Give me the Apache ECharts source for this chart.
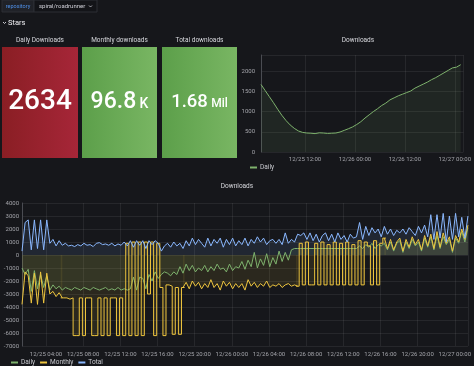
<!DOCTYPE html>
<html><head><meta charset="utf-8">
<script src="https://cdn.jsdelivr.net/npm/echarts@6/dist/echarts.min.js"></script>
<style>html,body{margin:0;padding:0;background:#16171b;}#c{width:474px;height:366px;}</style>
</head><body><div id="c"></div>
<script>
// ---- data ----
const statTitles = ['Daily Downloads', 'Monthly downloads', 'Total downloads'];
const statValues = ['2634', '96.8', '1.68'];
const statUnits = ['', 'K', 'Mil'];
const statKinds = ['red', 'green', 'green'];
const seriesNames = ['Daily', 'Monthly', 'Total'];

// top-right panel: Daily, hourly samples from 12/25 01:25
const topDaily = [1670,1520,1370,1220,1060,910,780,670,585,520,485,470,465,455,475,470,460,465,470,495,535,575,620,680,750,840,920,1000,1070,1150,1210,1290,1340,1390,1430,1470,1510,1580,1630,1680,1730,1790,1840,1900,1960,2020,2080,2100,2160];

// bottom panel: 20-minute samples from 12/25 01:25
const bottomDaily = [-1000,-1500,-1100,-2800,-1200,-2600,-1500,-2500,-1600,-2700,
-2300,-2600,-2400,-2700,-2500,-2600,-2700,-2500,-2600,-2700,
-2500,-2600,-2700,-2500,-2600,-2700,-2600,-2500,-2700,-2600,
-2700,-2500,-2700,-2600,-2700,-2600,-1700,-2700,-1700,-1800,
-2600,-1500,-2000,-1300,-1800,-1500,-1300,-1400,-1600,-1300,
-1500,-900,-1400,-700,-1200,-800,-1300,-1000,-1200,-800,
-1300,-900,-1200,-700,-1100,-1000,-1300,-700,-1200,-900,
-1000,-500,-1100,-400,-900,200,-1000,-300,-800,100,
-900,-200,-700,300,-500,200,-400,400,500,500,
500,500,500,500,500,500,500,500,500,500,
500,500,500,500,500,500,500,500,500,700,
500,800,600,900,500,800,700,900,400,1000,
300,900,1100,200,1000,500,1200,700,1000,300,
1300,600,1400,400,1500,500,1400,800,1200,200,
1300,900,1800,1000,2100];
const bottomMonthly = [-3800,-1300,-1600,-3700,-1400,-3800,-1300,-3700,-1400,-3000,
-2800,-3200,-2900,-3300,-3300,-3400,-3300,-6200,-6200,-3300,
-6200,-3300,-3300,-6200,-6200,-3300,-6200,-3300,-6200,-3300,
-3300,-6200,-3300,-6200,900,-6200,1000,-6200,1000,-6200,
1000,-3000,1000,-6200,900,-2500,-6200,-2300,-2400,-6100,
-2500,-6100,-2500,-2100,-2600,-2000,-2400,-2100,-2600,-2200,
-2500,-1900,-2500,-2200,-2700,-2000,-2400,-2100,-2600,-2200,
-2500,-2200,-2700,-1900,-2400,-2100,-2500,-2200,-2400,-2000,
-2500,-2300,-2400,-2200,-2500,-2300,-2200,-2400,-2300,-2400,
900,-2300,1000,-2300,-2300,900,-2300,1000,-2300,800,
-2300,1000,-2300,900,-2300,1000,-2300,800,-2300,1100,
-2300,1000,700,-2300,1100,-2300,900,1300,500,1200,
400,1000,1300,300,1200,600,1400,800,1200,400,
1500,700,1600,500,1800,600,1700,900,1400,300,
1500,1000,2000,1200,2300];
const bottomTotal = [300,2500,2700,400,2700,500,2700,400,2700,900,
1200,700,1100,750,900,700,750,650,800,700,
900,750,800,650,900,950,800,850,750,900,
700,850,750,1000,700,1100,600,1100,750,1100,
500,1100,800,1100,900,300,700,900,600,1000,
700,900,500,1100,700,1300,800,1200,900,600,
1300,700,1200,900,1300,600,1200,800,1300,700,
1100,800,1300,700,1200,900,1400,1000,1300,800,
1100,1200,900,1200,800,1700,900,1200,1000,1600,
1500,1700,1200,1700,1100,1600,1000,1500,1700,1100,
1600,1000,1700,1200,1500,1000,1600,1300,1400,2500,
1200,2200,1500,2100,1700,2000,1400,2200,1600,2000,
1500,1900,1700,2000,1600,2100,1800,1500,2200,1700,
2300,1400,3100,1200,3100,1300,3200,1000,3000,1200,
3200,1400,2900,1300,3000];

const startTime = new Date(2020, 11, 25, 1, 25).getTime();
const HOUR = 3600 * 1000;
const topStep = HOUR;
const bottomStep = 20 * 60 * 1000;
// index ranges of the Monthly series drawn as square spikes
const monthlySpikeSpans = [[13, 52], [89, 117]];

// ---- build ----
const toPairs = (arr, step) => arr.map((v, i) => [startTime + i * step, v]);
const inSpans = i => monthlySpikeSpans.some(s => i >= s[0] && i <= s[1]);
const edgeOfSpan = i => monthlySpikeSpans.some(s => i === s[0] || i === s[1]);
const monthlyStepped = bottomMonthly.map((v, i) => [startTime + i * bottomStep, inSpans(i) ? v : null]);
const monthlyPlain = bottomMonthly.map((v, i) => [startTime + i * bottomStep, (!inSpans(i) || edgeOfSpan(i)) ? v : null]);
const pad = n => (n < 10 ? '0' : '') + n;
const fmtTime = v => { const d = new Date(v); return pad(d.getMonth() + 1) + '/' + pad(d.getDate()) + ' ' + pad(d.getHours()) + ':' + pad(d.getMinutes()); };
const colors = { Daily: '#7eb26d', Monthly: '#eec53e', Total: '#8ab8ff' };
const FONT = 'Roboto, "Noto Sans", sans-serif';
const labelColor = '#a3a4aa';
const gridLine = 'rgba(255,255,255,0.07)';

const statBoxes = [{ x: 2, w: 76 }, { x: 82, w: 75 }, { x: 162, w: 75 }];
const grads = {
  red: new echarts.graphic.LinearGradient(0, 0, 1, 0, [{ offset: 0, color: '#8a1e24' }, { offset: 1, color: '#a62638' }]),
  green: new echarts.graphic.LinearGradient(0, 0, 1, 0, [{ offset: 0, color: '#5c9f4a' }, { offset: 1, color: '#79b663' }])
};
const valueSizes = [[28, 14], [23, 14], [18.5, 12]];

const graphic = [
  { type: 'rect', shape: { x: 2, y: 0, width: 32, height: 12 }, style: { fill: '#202228', stroke: '#2c2e34', lineWidth: 1 } },
  { type: 'text', style: { text: 'repository', x: 18, y: 6.5, fill: '#4f8fe6', font: '5.5px ' + FONT, align: 'center', verticalAlign: 'middle' } },
  { type: 'rect', shape: { x: 34, y: 0, width: 63, height: 12 }, style: { fill: '#131418', stroke: '#2c2e34', lineWidth: 1 } },
  { type: 'text', style: { text: 'spiral/roadrunner', x: 39, y: 6.5, fill: '#d0d0d8', font: '6px ' + FONT, verticalAlign: 'middle' } },
  { type: 'polyline', shape: { points: [[89, 5.5], [90.5, 7], [92, 5.5]] }, style: { stroke: '#c8c8d0', lineWidth: 0.8, fill: null } },
  { type: 'polyline', shape: { points: [[3, 22], [4.5, 23.5], [6, 22]] }, style: { stroke: '#e0e0e6', lineWidth: 0.9, fill: null } },
  { type: 'text', style: { text: 'Stars', x: 8, y: 23, fill: '#f0f0f4', font: '7.5px ' + FONT, verticalAlign: 'middle' } },
  { type: 'text', style: { text: 'Downloads', x: 358, y: 40, fill: '#d8d9de', font: '6.5px ' + FONT, align: 'center', verticalAlign: 'middle' } },
  { type: 'text', style: { text: 'Downloads', x: 237, y: 186, fill: '#d8d9de', font: '6.5px ' + FONT, align: 'center', verticalAlign: 'middle' } }
];
statTitles.forEach((t, i) => {
  const b = statBoxes[i];
  const cx = b.x + b.w / 2;
  graphic.push({ type: 'text', style: { text: t, x: cx, y: 40, fill: '#d8d9de', font: '6.5px ' + FONT, align: 'center', verticalAlign: 'middle' } });
  graphic.push({ type: 'rect', shape: { x: b.x, y: 47, width: b.w, height: 111 }, style: { fill: grads[statKinds[i]] } });
  const txt = statUnits[i] ? '{v|' + statValues[i] + '} {u|' + statUnits[i] + '}' : '{v|' + statValues[i] + '}';
  graphic.push({ type: 'text', z: 10, style: {
    text: txt, x: cx, y: 102, align: 'center', verticalAlign: 'middle',
    rich: {
      v: { fontSize: valueSizes[i][0], fontWeight: 500, fontFamily: FONT, fill: '#ffffff', verticalAlign: 'bottom' },
      u: { fontSize: valueSizes[i][1], fontWeight: 500, fontFamily: FONT, fill: '#ffffff', verticalAlign: 'bottom', padding: [0, 0, 2, 0] }
    }
  } });
});

const plainNum = v => String(v);
const lineBase = c => ({ showSymbol: false, symbol: 'none', color: c, lineStyle: { width: 1, color: c }, areaStyle: { color: c, opacity: 0.1 } });

const chart = echarts.init(document.getElementById('c'), null, { renderer: 'canvas' });
chart.setOption({
  backgroundColor: '#16171b',
  animation: false,
  textStyle: { fontFamily: FONT },
  graphic: graphic,
  legend: [
    { data: ['Daily'], left: 250, top: 164, padding: 0, itemWidth: 7, itemHeight: 2, icon: 'rect', itemGap: 6,
      textStyle: { color: '#c8c9ce', fontSize: 6.5, padding: [0, 0, 0, -2] }, selectedMode: false },
    { data: seriesNames, left: 11, top: 359, padding: 0, itemWidth: 7, itemHeight: 2, icon: 'rect', itemGap: 5,
      textStyle: { color: '#c8c9ce', fontSize: 6.5, padding: [0, 0, 0, -2] }, selectedMode: false }
  ],
  grid: [
    { left: 261, right: 2, top: 55, bottom: 214 },
    { left: 22, right: 4, top: 203, bottom: 20 }
  ],
  xAxis: [
    { type: 'time', gridIndex: 0, min: startTime, max: startTime + 48.66 * HOUR, splitNumber: 4,
      axisLine: { show: false }, axisTick: { show: false },
      axisLabel: { formatter: fmtTime, color: labelColor, fontSize: 6, margin: 4, hideOverlap: false },
      splitLine: { show: true, lineStyle: { color: gridLine, width: 1 } } },
    { type: 'time', gridIndex: 1, min: startTime, max: startTime + 48 * HOUR,
      minInterval: 4 * HOUR, maxInterval: 4 * HOUR,
      axisLine: { show: false }, axisTick: { show: false },
      axisLabel: { formatter: fmtTime, color: labelColor, fontSize: 6, margin: 5, hideOverlap: false },
      splitLine: { show: true, lineStyle: { color: gridLine, width: 1 } } }
  ],
  yAxis: [
    { type: 'value', gridIndex: 0, min: 0, max: 2400, interval: 500,
      axisLine: { show: true, lineStyle: { color: '#4a4c52' } }, axisTick: { show: false },
      axisLabel: { color: labelColor, fontSize: 6, margin: 6, showMaxLabel: false, formatter: plainNum },
      splitLine: { show: true, lineStyle: { color: gridLine, width: 1 } } },
    { type: 'value', gridIndex: 1, min: -7000, max: 4000, interval: 1000,
      axisLine: { show: true, lineStyle: { color: '#4a4c52' } }, axisTick: { show: false },
      axisLabel: { color: labelColor, fontSize: 6, margin: 3, formatter: plainNum },
      splitLine: { show: true, lineStyle: { color: gridLine, width: 1 } } }
  ],
  series: [
    Object.assign({ name: 'Daily', type: 'line', xAxisIndex: 0, yAxisIndex: 0, data: toPairs(topDaily, topStep) }, lineBase(colors.Daily)),
    Object.assign({ name: 'Daily', type: 'line', xAxisIndex: 1, yAxisIndex: 1, data: toPairs(bottomDaily, bottomStep) }, lineBase(colors.Daily)),
    Object.assign({ name: 'Monthly', type: 'line', xAxisIndex: 1, yAxisIndex: 1, data: monthlyPlain }, lineBase(colors.Monthly)),
    Object.assign({ name: 'Monthly', type: 'line', xAxisIndex: 1, yAxisIndex: 1, data: monthlyStepped, step: 'middle' }, lineBase(colors.Monthly)),
    Object.assign({ name: 'Total', type: 'line', xAxisIndex: 1, yAxisIndex: 1, data: toPairs(bottomTotal, bottomStep) }, lineBase(colors.Total))
  ]
});
</script>
</body></html>
